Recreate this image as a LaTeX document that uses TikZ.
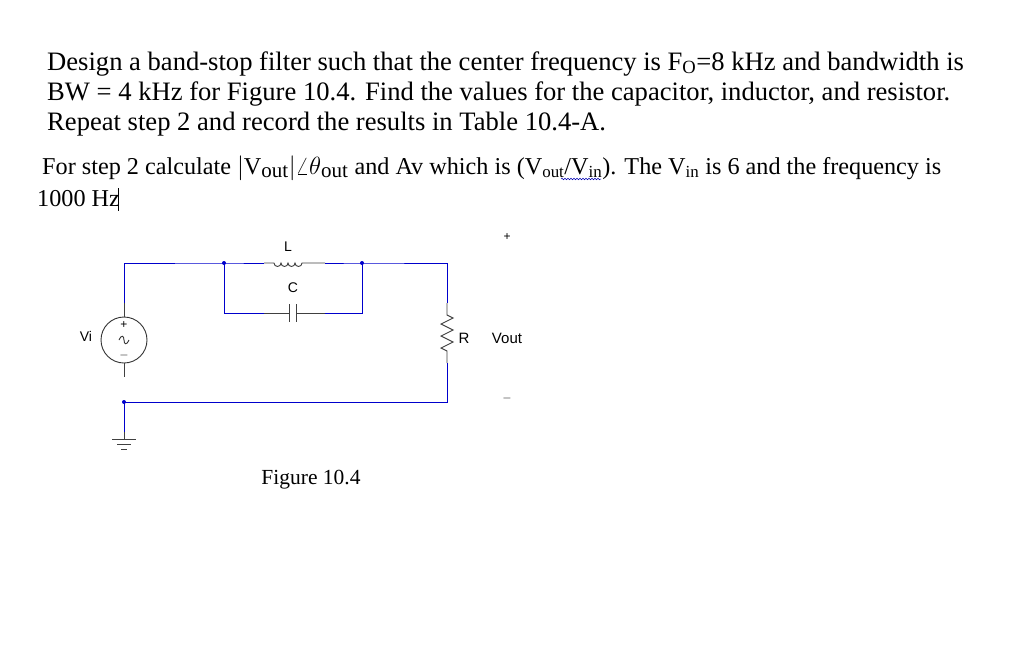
\documentclass[tikz,border=0pt]{standalone}
\usepackage{fontspec}
\setmainfont{Liberation Serif}
\newfontfamily\sansf{Liberation Sans}
\usetikzlibrary{decorations.pathmorphing}
\begin{document}
\begin{tikzpicture}[x=1pt,y=-1pt,
  wire/.style={draw=blue!80!black,line width=0.9pt},
  lead/.style={draw=black!75,line width=0.9pt},
  dot/.style={circle,fill=blue!80!black,inner sep=0pt,minimum size=4pt},
  txt/.style={anchor=base west,inner sep=0pt,font=\fontsize{26.6}{30}\selectfont},
  lbl/.style={inner sep=0pt,font=\sansf\fontsize{14}{16}\selectfont}]
\useasboundingbox (0,0) rectangle (1024,653);
% text
\node[txt] (t1) at (47,70) {Design a band-stop filter such that the center frequency is F\textsubscript{O}=8 kHz and bandwidth is};
\node[txt] (t2) at (47,100) {BW = 4 kHz for Figure 10.4. Find the values for the capacitor, inductor, and resistor.};
\node[txt] (t3) at (47,130) {Repeat step 2 and record the results in Table 10.4-A.};
\node[txt,font=\fontsize{24.2}{28}\selectfont] (t4) at (42,174) {For step 2 calculate $|$V\textsubscript{\fontsize{21}{22}\selectfont out}$|\angle\theta$\textsubscript{\fontsize{21}{22}\selectfont out} and Av which is (V\textsubscript{out}/V\textsubscript{in}). The V\textsubscript{in} is 6 and the frequency is};
\node[txt,font=\fontsize{24.2}{28}\selectfont] (t5) at (37,206) {1000 Hz};
\coordinate (cu1) at (118,188); \coordinate (cu2) at (118,211);
\draw[line width=0.8pt] (cu1) -- (cu2);
\coordinate (sq1) at (561,179); \coordinate (sq2) at (601,179);
\draw[blue!70!black,line width=0.5pt,decorate,decoration={snake,amplitude=0.8pt,segment length=3pt}] (sq1) -- (sq2);
% circuit coordinates
\coordinate (tl) at (124,263);
\coordinate (j1) at (224,263);
\coordinate (j2) at (362,263);
\coordinate (tr) at (447,263);
\coordinate (la) at (264,263);
\coordinate (lb) at (325,263);
\coordinate (cl) at (224,313);
\coordinate (cr) at (362,313);
\coordinate (ca) at (264,313);
\coordinate (cb) at (325,313);
\coordinate (sa) at (124,303);
\coordinate (sb) at (124,377);
\coordinate (jb) at (124,402);
\coordinate (br) at (447,402);
\coordinate (ra) at (447,303);
\coordinate (rb) at (447,363);
\coordinate (g) at (124,432);
\node[circle,draw=black!80,line width=0.9pt,minimum size=46pt,inner sep=0pt] (src) at (124,340) {};
\draw[wire] (sa) -- (tl) -- (j1) -- (la);
\draw[wire] (lb) -- (j2) -- (tr) -- (ra);
\draw[wire] (j1) -- (cl) -- (ca);
\draw[wire] (cb) -- (cr) -- (j2);
\draw[wire] (rb) -- (br) -- (jb) -- (g);
% inductor
\draw[lead] (la) -- (274,263)
  arc[start angle=180,end angle=0,radius=3.5] arc[start angle=180,end angle=0,radius=3.5]
  arc[start angle=180,end angle=0,radius=3.5] arc[start angle=180,end angle=0,radius=3.5]
  -- (lb);
% capacitor
\draw[lead] (ca) -- (289,313) (289,304) -- (289,322) (296,304) -- (296,322) (296,313) -- (cb);
% resistor
\draw[lead] (ra) -- (447,315) -- (453,318) -- (441,324) -- (453,330) -- (441,336) -- (453,342) -- (441,348) -- (447,351) -- (rb);
% source leads
\draw[lead] (sa) -- (src.north) (src.south) -- (sb);
\draw[black!80,line width=0.9pt] (119,340) .. controls (121,335) and (124,335) .. (124,340) .. controls (124,345) and (127,345) .. (129,340);
\node[lbl,font=\sansf\fontsize{12}{14}\selectfont] (pl) at (124,325) {+};
\node[lbl,font=\sansf\fontsize{12}{14}\selectfont] (mi) at (124,355) {$-$};
% ground
\draw[lead] (g) -- (124,439);
\draw[lead] (112,439) -- (136,439) (117,444) -- (131,444) (121,449) -- (127,449);
\node[dot] (d1) at (j1) {};
\node[dot] (d2) at (j2) {};
\node[dot] (d3) at (jb) {};
% labels
\node[lbl] (L) at (288,247) {L};
\node[lbl] (C) at (293,288) {C};
\node[lbl] (Vi) at (86,336) {Vi};
\node[lbl,font=\sansf\fontsize{15}{17}\selectfont] (R) at (464,338) {R};
\node[lbl,font=\sansf\fontsize{15}{17}\selectfont] (Vo) at (507,338) {Vout};
\node[lbl,font=\sansf\fontsize{12}{14}\selectfont] (p) at (507,237) {+};
\node[lbl,font=\sansf\fontsize{12}{14}\selectfont] (m) at (507,398) {$-$};
\node[inner sep=0pt,font=\fontsize{21.5}{24}\selectfont] (fig) at (311,480) {Figure 10.4};
\end{tikzpicture}
\end{document}
